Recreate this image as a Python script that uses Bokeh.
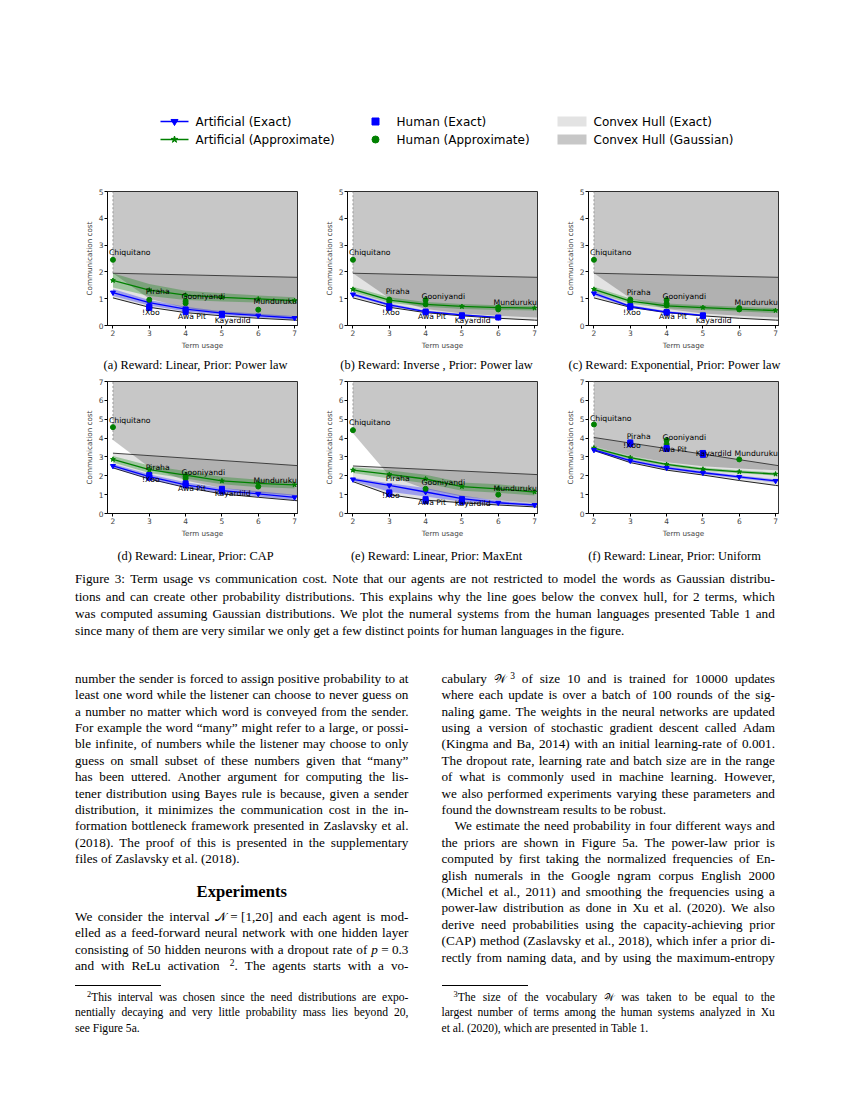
from bokeh.plotting import figure
from bokeh.layouts import column, row
from bokeh.models import Range1d, FixedTicker, Div
from bokeh.core.properties import value
from bokeh.embed import file_html
from bokeh.resources import INLINE

# ---------------- data ----------------
TERMS = [2, 3, 4, 5, 6, 7]
LANGS = ["Chiquitano", "Piraha", "!Xoo", "Gooniyandi", "Awa Pit", "Kayardild", "Munduruku"]
LABEL_X = [1.89, 2.9, 2.8, 3.89, 3.79, 4.8, 5.87]
CAPTIONS = ["(a) Reward: Linear, Prior: Power law",
            "(b) Reward: Inverse , Prior: Power law",
            "(c) Reward: Exponential, Prior: Power law",
            "(d) Reward: Linear, Prior: CAP",
            "(e) Reward: Linear, Prior: MaxEnt",
            "(f) Reward: Linear, Prior: Uniform"]

# (a) Linear / Power law
a_exact = [1.23, 0.85, 0.61, 0.46, 0.37, 0.28]
a_exact_lo = [1.10, 0.75, 0.52, 0.39, 0.30, 0.21]
a_exact_hi = [1.36, 0.95, 0.70, 0.53, 0.44, 0.35]
a_approx = [1.68, 1.32, 1.13, 1.05, 0.99, 0.93]
a_approx_lo = [1.42, 1.10, 0.95, 0.90, 0.86, 0.80]
a_approx_hi = [1.95, 1.55, 1.30, 1.20, 1.12, 1.05]
a_hull_exact_lo = [1.03, 0.68, 0.48, 0.36, 0.27, 0.20]
a_hull_exact_up = [1.95, 1.80]
a_hull_gauss_lo = [1.95, 1.00, 0.65, 0.47, 0.38, 0.33]
a_hum_exact_x = [3, 3, 4, 4, 5, 5]
a_hum_exact_y = [0.71, 0.65, 0.60, 0.50, 0.44, 0.38]
a_hum_approx_x = [2, 3, 4, 4, 6]
a_hum_approx_y = [2.45, 0.96, 0.91, 0.83, 0.59]
a_label_y = [2.74, 1.26, 0.50, 1.07, 0.34, 0.18, 0.89]

# (b) Inverse / Power law
b_exact = [1.16, 0.77, 0.52, 0.40, 0.30]
b_exact_lo = [1.10, 0.72, 0.48, 0.37, 0.28]
b_exact_hi = [1.22, 0.82, 0.56, 0.43, 0.32]
b_approx = [1.35, 0.95, 0.79, 0.71, 0.67, 0.65]
b_approx_lo = [1.25, 0.85, 0.70, 0.62, 0.58, 0.56]
b_approx_hi = [1.45, 1.05, 0.88, 0.80, 0.76, 0.74]
b_hull_exact_lo = [1.03, 0.68, 0.48, 0.36, 0.27, 0.20]
b_hull_exact_up = [1.95, 1.80]
b_hull_gauss_lo = [1.95, 1.02, 0.62, 0.45, 0.36, 0.30]
b_hum_exact_x = [3, 3, 4, 4, 5, 5, 6]
b_hum_exact_y = [0.72, 0.66, 0.52, 0.49, 0.38, 0.35, 0.30]
b_hum_approx_x = [2, 3, 3, 4, 4, 6, 6]
b_hum_approx_y = [2.45, 0.97, 0.90, 0.95, 0.79, 0.68, 0.60]
b_label_y = [2.74, 1.26, 0.50, 1.07, 0.34, 0.18, 0.85]

# (c) Exponential / Power law
c_exact = [1.20, 0.71, 0.50, 0.38]
c_exact_lo = [1.13, 0.66, 0.46, 0.35]
c_exact_hi = [1.27, 0.76, 0.54, 0.41]
c_approx = [1.35, 0.91, 0.73, 0.67, 0.61, 0.56]
c_approx_lo = [1.25, 0.81, 0.64, 0.58, 0.52, 0.47]
c_approx_hi = [1.45, 1.01, 0.82, 0.76, 0.70, 0.65]
c_hull_exact_lo = [1.03, 0.68, 0.48, 0.36, 0.27, 0.20]
c_hull_exact_up = [1.95, 1.80]
c_hull_gauss_lo = [1.95, 1.02, 0.62, 0.45, 0.36, 0.30]
c_hum_exact_x = [3, 3, 4, 4, 5, 5]
c_hum_exact_y = [0.72, 0.68, 0.50, 0.48, 0.38, 0.35]
c_hum_approx_x = [2, 3, 3, 4, 4, 4, 6, 6]
c_hum_approx_y = [2.45, 0.97, 0.88, 0.95, 0.82, 0.75, 0.65, 0.60]
c_label_y = [2.74, 1.24, 0.50, 1.07, 0.34, 0.18, 0.87]

# (d) Linear / CAP
d_exact = [2.52, 1.95, 1.52, 1.21, 1.04, 0.86]
d_exact_lo = [2.42, 1.82, 1.38, 1.07, 0.90, 0.72]
d_exact_hi = [2.62, 2.08, 1.66, 1.35, 1.18, 1.00]
d_approx = [2.87, 2.33, 2.04, 1.73, 1.60, 1.52]
d_approx_lo = [2.70, 2.15, 1.85, 1.55, 1.40, 1.32]
d_approx_hi = [3.05, 2.55, 2.25, 1.95, 1.80, 1.72]
d_hull_exact_lo = [2.42, 1.83, 1.38, 1.04, 0.86, 0.69]
d_hull_exact_up = [3.20, 2.55]
d_hull_gauss_lo = [3.90, 2.45, 1.75, 1.35, 1.10, 0.95]
d_hum_exact_x = [3, 3, 4, 4, 5, 5]
d_hum_exact_y = [2.04, 1.90, 1.60, 1.49, 1.31, 1.17]
d_hum_approx_x = [2, 3, 4, 4, 6]
d_hum_approx_y = [4.58, 2.10, 1.95, 1.85, 1.43]
d_label_y = [4.93, 2.44, 1.78, 2.16, 1.35, 1.04, 1.75]

# (e) Linear / MaxEnt
e_exact = [1.81, 1.49, 1.14, 0.79, 0.57, 0.45]
e_exact_lo = [1.72, 1.15, 0.90, 0.62, 0.48, 0.38]
e_exact_hi = [1.90, 1.60, 1.35, 0.95, 0.68, 0.52]
e_approx = [2.30, 2.07, 1.83, 1.43, 1.31, 1.14]
e_approx_lo = [2.15, 1.85, 1.60, 1.20, 1.10, 0.95]
e_approx_hi = [2.45, 2.30, 2.05, 1.65, 1.55, 1.35]
e_hull_exact_lo = [1.69, 1.00, 0.71, 0.57, 0.45, 0.35]
e_hull_exact_up = [2.52, 2.07]
e_hull_gauss_lo = [4.25, 2.00, 1.30, 0.90, 0.70, 0.55]
e_hum_exact_x = [3, 3, 4, 4, 5, 5]
e_hum_exact_y = [1.12, 1.04, 0.76, 0.66, 0.76, 0.62]
e_hum_approx_x = [2, 4, 6]
e_hum_approx_y = [4.42, 1.31, 1.00]
e_label_y = [4.80, 1.87, 0.95, 1.66, 0.57, 0.54, 1.31]

# (f) Linear / Uniform
f_exact = [3.37, 2.80, 2.42, 2.16, 1.94, 1.73]
f_exact_lo = [3.30, 2.72, 2.34, 2.08, 1.86, 1.65]
f_exact_hi = [3.44, 2.88, 2.50, 2.24, 2.02, 1.81]
f_approx = [3.47, 2.96, 2.60, 2.35, 2.21, 2.09]
f_approx_lo = [3.40, 2.88, 2.52, 2.27, 2.13, 2.01]
f_approx_hi = [3.54, 3.04, 2.68, 2.43, 2.29, 2.17]
f_hull_exact_lo = [3.34, 2.70, 2.30, 2.04, 1.75, 1.49]
f_hull_exact_up = [4.03, 2.56]
f_hull_gauss_lo = [3.55, 3.05, 2.72, 2.50, 2.38, 2.30]
f_hum_exact_x = [3, 3, 4, 4, 5, 5]
f_hum_exact_y = [3.77, 3.68, 3.47, 3.42, 3.21, 3.11]
f_hum_approx_x = [2, 4, 4, 6]
f_hum_approx_y = [4.72, 3.89, 3.68, 2.87]
f_label_y = [5.06, 4.08, 3.63, 4.03, 3.37, 3.20, 3.20]

# ---------------- style ----------------
BLUE = "#0000ff"
GREEN = "#008000"
HULL_E_COLOR, HULL_E_ALPHA = "#000000", 0.11
HULL_G_COLOR, HULL_G_ALPHA = "#000000", 0.22
SANS = "DejaVu Sans"
SERIF = "Liberation Serif"
XMIN, XMAX = 1.85, 7.08


def panel_spec(p):
    g = globals()
    keys = ["exact", "exact_lo", "exact_hi", "approx", "approx_lo", "approx_hi",
            "hull_exact_lo", "hull_exact_up", "hull_gauss_lo",
            "hum_exact_x", "hum_exact_y", "hum_approx_x", "hum_approx_y", "label_y"]
    return {k: g[p + "_" + k] for k in keys}


def to_edge(ys):
    # continue the last hull segment up to the right edge of the axes
    return ys + [ys[-1] + (ys[-1] - ys[-2]) * (XMAX - TERMS[-1])]


def make_panel(d, ymax, width, left, height, frame_w=190):
    p = figure(width=width, height=height, x_range=Range1d(XMIN, XMAX),
               y_range=Range1d(0, ymax), output_backend="svg", toolbar_location=None,
               min_border_left=left, min_border_right=width - left - frame_w,
               min_border_top=8, min_border_bottom=24)
    p.outline_line_color = "black"
    p.outline_line_width = 0.8
    p.grid.visible = False
    top = ymax * 2
    hx = TERMS + [XMAX]
    # convex hull (Gaussian)
    g_lo = to_edge(d["hull_gauss_lo"])
    p.patch(hx + [XMAX, TERMS[0]], g_lo + [top, top],
            fill_color=HULL_G_COLOR, fill_alpha=HULL_G_ALPHA, line_color=None)
    p.line([TERMS[0], TERMS[0]], [d["hull_gauss_lo"][0], top], line_color="#8a8a8a",
           line_dash="2 2", line_width=0.8)
    # convex hull (Exact)
    e_lo = to_edge(d["hull_exact_lo"])
    u2, u7 = d["hull_exact_up"]
    e_up = [u2, u2 + (u7 - u2) * (XMAX - TERMS[0]) / (TERMS[-1] - TERMS[0])]
    p.patch(hx + [XMAX, TERMS[0]], e_lo + e_up[::-1],
            fill_color=HULL_E_COLOR, fill_alpha=HULL_E_ALPHA, line_color=None)
    p.line(hx, e_lo, line_color="#202020", line_width=1.0)
    p.line([TERMS[0], XMAX], e_up, line_color="#404040", line_width=1.0)
    # artificial approximate
    xa = TERMS[:len(d["approx"])]
    p.varea(x=xa, y1=d["approx_lo"], y2=d["approx_hi"], fill_color=GREEN, fill_alpha=0.3)
    p.line(xa, d["approx"], line_color=GREEN, line_width=1.3)
    p.scatter(xa, d["approx"], marker="star", size=5, color=GREEN)
    # artificial exact
    xe = TERMS[:len(d["exact"])]
    p.varea(x=xe, y1=d["exact_lo"], y2=d["exact_hi"], fill_color=BLUE, fill_alpha=0.3)
    p.line(xe, d["exact"], line_color=BLUE, line_width=1.3)
    p.scatter(xe, d["exact"], marker="inverted_triangle", size=5, color=BLUE)
    # human systems
    p.scatter(d["hum_approx_x"], d["hum_approx_y"], marker="circle", size=5, color=GREEN)
    p.scatter(d["hum_exact_x"], d["hum_exact_y"], marker="square", size=5, color=BLUE)
    p.text(LABEL_X, d["label_y"], text=LANGS, text_font=value(SANS),
           text_font_size="7.7px", text_baseline="middle", text_align="left",
           text_color="black")
    p.xaxis.ticker = FixedTicker(ticks=TERMS)
    p.yaxis.ticker = FixedTicker(ticks=list(range(ymax + 1)))
    p.xaxis.axis_label = "Term usage"
    p.yaxis.axis_label = "Communication cost"
    for ax in p.axis:
        ax.major_label_text_font = SANS
        ax.major_label_text_font_size = "7.5px"
        ax.axis_label_text_font = SANS
        ax.axis_label_text_font_size = "7.2px"
        ax.axis_label_text_font_style = "normal"
        ax.major_tick_out = 3
        ax.major_tick_in = 0
        ax.minor_tick_out = 0
        ax.minor_tick_in = 0
        ax.major_label_standoff = 1
        ax.axis_label_standoff = 2
        ax.axis_line_color = "black"
        ax.axis_line_width = 0.8
    return p


PAGE_W = 842


def page_fig(y0, y1):
    f = figure(width=PAGE_W, height=y1 - y0, x_range=Range1d(0, PAGE_W),
               y_range=Range1d(y1, y0), output_backend="svg", toolbar_location=None,
               min_border=0, x_axis_type=None, y_axis_type=None)
    f.outline_line_color = None
    f.grid.visible = False
    return f


# ---------------- top legend ----------------
top = page_fig(0, 183)
r1, r2 = 121, 139
top.line([160, 188], [r1, r1], line_color=BLUE, line_width=1.5)
top.scatter([174], [r1], marker="inverted_triangle", size=7, color=BLUE)
top.line([160, 188], [r2, r2], line_color=GREEN, line_width=1.5)
top.scatter([174], [r2], marker="star", size=7, color=GREEN)
top.scatter([375], [r1], marker="square", size=7, color=BLUE)
top.scatter([375], [r2], marker="circle", size=7, color=GREEN)
top.quad(left=[557], right=[586], top=[116], bottom=[126],
         fill_color=HULL_E_COLOR, fill_alpha=HULL_E_ALPHA, line_color=None)
top.quad(left=[557], right=[586], top=[134], bottom=[144],
         fill_color=HULL_G_COLOR, fill_alpha=HULL_G_ALPHA, line_color=None)
top.text([195, 195, 396, 396, 593, 593], [r1, r2, r1, r2, r1, r2],
         text=["Artificial (Exact)", "Artificial (Approximate)", "Human (Exact)",
               "Human (Approximate)", "Convex Hull (Exact)", "Convex Hull (Gaussian)"],
         text_font=value(SANS), text_font_size="12px", text_baseline="middle",
         text_color="black")

# ---------------- panels ----------------
pa = make_panel(panel_spec("a"), 5, 320, 107, 169)
pb = make_panel(panel_spec("b"), 5, 240, 27, 169)
pc = make_panel(panel_spec("c"), 5, 274, 28, 169)
pd_ = make_panel(panel_spec("d"), 7, 320, 107, 167)
pe = make_panel(panel_spec("e"), 7, 240, 27, 167)
pf = make_panel(panel_spec("f"), 7, 274, 28, 167)

cap1 = page_fig(352, 373)
cap1.text([195, 436, 674], [364.5] * 3, text=CAPTIONS[:3], text_font=value(SERIF),
          text_font_size="12.4px", text_align="center", text_baseline="middle",
          text_color="black")
cap2 = page_fig(540, 563)
cap2.text([195, 436, 674], [555.5] * 3, text=CAPTIONS[3:], text_font=value(SERIF),
          text_font_size="12.4px", text_align="center", text_baseline="middle",
          text_color="black")

# ---------------- body text ----------------
OY = 563
NB = "\u00a0"
SUP_OPEN = ('<span style="position:relative;top:-0.42em;font-size:72%;'
            'line-height:0;vertical-align:baseline;">')
SCRIPT_OPEN = '<span style="font-family:\'DejaVu Serif\',serif;font-size:90%;">'


def fmt(w):
    return (w.replace("[s]", SUP_OPEN).replace("[/s]", "</span>")
             .replace("[m]", SCRIPT_OPEN).replace("[/m]", "</span>")
             .replace(NB, "&nbsp;"))


def line_html(text, left, yc, width, justify, size=13.2, lh=16.4):
    t = yc - lh / 2 - OY
    base = (f"position:absolute;left:{left}px;top:{t:.1f}px;height:{lh}px;"
            f"line-height:{lh}px;font-size:{size}px;white-space:nowrap;")
    if justify:
        spans = "".join(f"<span>{fmt(w)}</span>" for w in text.split(" "))
        return (f'<div style="{base}width:{width}px;display:flex;align-items:baseline;'
                f'justify-content:space-between;">{spans}</div>')
    return f'<div style="{base}">{fmt(text)}</div>'


CAPTION_LINES = [
    "Figure 3: Term usage vs communication cost. Note that our agents are not restricted to model the words as Gaussian distribu-",
    "tions and can create other probability distributions. This explains why the line goes below the convex hull, for 2 terms, which",
    "was computed assuming Gaussian distributions. We plot the numeral systems from the human languages presented Table 1 and",
    "since many of them are very similar we only get a few distinct points for human languages in the figure.",
]
LEFT_LINES = [
    "number the sender is forced to assign positive probability to at",
    "least one word while the listener can choose to never guess on",
    "a number no matter which word is conveyed from the sender.",
    "For example the word \u201cmany\u201d might refer to a large, or possi-",
    "ble infinite, of numbers while the listener may choose to only",
    "guess on small subset of these numbers given that \u201cmany\u201d",
    "has been uttered. Another argument for computing the lis-",
    "tener distribution using Bayes rule is because, given a sender",
    "distribution, it minimizes the communication cost in the in-",
    "formation bottleneck framework presented in Zaslavsky et al.",
    "(2018). The proof of this is presented in the supplementary",
    "files of Zaslavsky et al. (2018).",
]
EXP_LINES = [
    "We consider the interval [m]\U0001D4A9[/m]" + NB + "=" + NB + "[1,20] and each agent is mod-",
    "elled as a feed-forward neural network with one hidden layer",
    "consisting of 50 hidden neurons with a dropout rate of <i>p</i>" + NB + "=" + NB + "0.3",
    "and with ReLu activation " + NB + "[s]2[/s]. The agents starts with a vo-",
]
FOOT_LEFT = [
    "[s]2[/s]This interval was chosen since the need distributions are expo-",
    "nentially decaying and very little probability mass lies beyond 20,",
    "see Figure 5a.",
]
RIGHT_LINES = [
    "cabulary [m]\U0001D4B2[/m]" + NB + "[s]3[/s] of size 10 and is trained for 10000 updates",
    "where each update is over a batch of 100 rounds of the sig-",
    "naling game. The weights in the neural networks are updated",
    "using a version of stochastic gradient descent called Adam",
    "(Kingma and Ba, 2014) with an initial learning-rate of 0.001.",
    "The dropout rate, learning rate and batch size are in the range",
    "of what is commonly used in machine learning. However,",
    "we also performed experiments varying these parameters and",
    "found the downstream results to be robust.",
    "We estimate the need probability in four different ways and",
    "the priors are shown in Figure 5a. The power-law prior is",
    "computed by first taking the normalized frequencies of En-",
    "glish numerals in the Google ngram corpus English 2000",
    "(Michel et al., 2011) and smoothing the frequencies using a",
    "power-law distribution as done in Xu et al. (2020). We also",
    "derive need probabilities using the capacity-achieving prior",
    "(CAP) method (Zaslavsky et al., 2018), which infer a prior di-",
    "rectly from naming data, and by using the maximum-entropy",
]
FOOT_RIGHT = [
    "[s]3[/s]The size of the vocabulary [m]\U0001D4B2[/m] was taken to be equal to the",
    "largest number of terms among the human systems analyzed in Xu",
    "et al. (2020), which are presented in Table 1.",
]

LX, RX, CW = 75, 441.5, 333.5
parts = []
cap_y = [579.5, 597, 614, 631.5]
for i, t in enumerate(CAPTION_LINES):
    parts.append(line_html(t, LX, cap_y[i], 700, i < 3))
for i, t in enumerate(LEFT_LINES):
    parts.append(line_html(t, LX, 679 + 16.4 * i, CW, i < len(LEFT_LINES) - 1))
parts.append(f'<div style="position:absolute;left:{LX}px;top:{892 - 10 - OY}px;width:{CW}px;'
             f'text-align:center;font-size:16.6px;font-weight:bold;line-height:20px;">Experiments</div>')
for i, t in enumerate(EXP_LINES):
    parts.append(line_html(t, LX, 917 + 16.4 * i, CW, True))
for i, t in enumerate(FOOT_LEFT):
    ind = 12 if i == 0 else 0
    parts.append(line_html(t, LX + ind, 997 + 15.5 * i, CW - ind, i < 2, size=11.6, lh=15))
for i, t in enumerate(RIGHT_LINES):
    ind = 13 if i == 9 else 0
    parts.append(line_html(t, RX + ind, 679 + 16.4 * i, CW - ind, i != 8))
for i, t in enumerate(FOOT_RIGHT):
    ind = 12 if i == 0 else 0
    parts.append(line_html(t, RX + ind, 997 + 15.5 * i, CW - ind, i < 2, size=11.6, lh=15))
for x0 in (LX, RX):
    parts.append(f'<div style="position:absolute;left:{x0}px;top:{985 - OY}px;width:86px;'
                 f'border-top:0.7px solid #000;"></div>')

body_html = (f'<div style="position:relative;width:{PAGE_W}px;height:529px;'
             f"font-family:'{SERIF}',serif;color:#000;\">" + "".join(parts) + "</div>")
body = Div(text=body_html, width=PAGE_W, height=529, margin=(0, 0, 0, 0))

layout = column(top, row(pa, pb, pc), cap1, row(pd_, pe, pf), cap2, body)
open("out.html", "w").write(file_html(layout, INLINE, title="Figure 3"))
